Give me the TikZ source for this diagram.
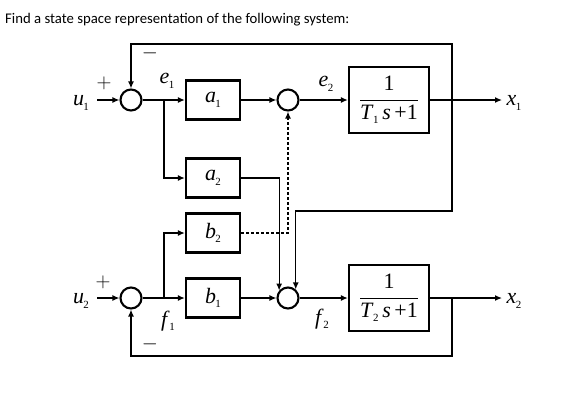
\documentclass[tikz,border=0pt]{standalone}
\usepackage{fontspec}
\setmainfont{Liberation Serif}
\newfontfamily\titlefont{Carlito}
\usetikzlibrary{arrows.meta}
\newcommand\sbs[1]{\raisebox{-0.45ex}{\fontsize{11}{11}\selectfont #1}}
\newcommand\vr[2]{\textit{#1}\kern-0.5pt\sbs{#2}}
\begin{document}
\begin{tikzpicture}[x=1bp,y=-1bp,
  blk/.style={draw,line width=2.3bp,minimum width=54bp,minimum height=39bp,inner sep=0pt,font=\fontsize{22}{22}\selectfont},
  tf/.style={draw,line width=2.3bp,minimum width=80bp,minimum height=66bp,inner sep=0pt,font=\fontsize{22}{22}\selectfont},
  sum/.style={circle,draw,line width=2.1bp,minimum size=21bp,inner sep=0pt},
  conn/.style={line width=1.3bp,-{Latex[length=7bp,width=6bp]}},
  dconn/.style={conn,dash pattern=on 3bp off 2bp},
  lab/.style={font=\fontsize{22}{22}\selectfont,inner sep=0pt},
  sgn/.style={font=\fontsize{21}{21}\selectfont,inner sep=0pt}
]
\useasboundingbox (0,0) rectangle (582,401);
\node[anchor=base west,font=\titlefont\fontsize{14.8}{14.8}\selectfont,inner sep=0pt] (title) at (5,23) {Find a state space representation of the following system:};

% nodes
\node[sum] (s1) at (131,100) {};
\node[blk] (a1) at (213,100) {\vr{a}{1}};
\node[sum] (s2) at (288,100) {};
\node[tf] (g1) at (389,100) {\(\displaystyle\frac{\mbox{1}}{\mbox{\vr{T}{1}\,\textit{s}\,+1}}\)};
\node[blk] (a2) at (213,178) {\vr{a}{2}};
\node[blk] (b2) at (213,233) {\vr{b}{2}};
\node[blk] (b1) at (213,298) {\vr{b}{1}};
\node[sum] (s4) at (131,298) {};
\node[sum] (s3) at (288,298) {};
\node[tf] (g2) at (389,298) {\(\displaystyle\frac{\mbox{1}}{\mbox{\vr{T}{2}\,\textit{s}\,+1}}\)};

\coordinate (u1) at (97,100);
\coordinate (u2) at (97,298);
\coordinate (br1) at (164,100);
\coordinate (br2) at (164,298);
\coordinate (x1) at (502,100);
\coordinate (x2) at (502,298);
\coordinate (tp1) at (452,100);
\coordinate (tp2) at (452,298);
\coordinate (tpA) at (452,44);
\coordinate (tpB) at (452,211);
\coordinate (tpC) at (452,356);

% connectors
\draw[conn] (u1) -- (s1.west);
\draw[conn] (s1.east) -- (a1.west);
\draw[conn] (br1) |- (a2.west);
\draw[conn] (a1.east) -- (s2.west);
\draw[conn] (s2.east) -- (g1.west);
\draw[conn] (g1.east) -- (x1);
\draw[conn] (tp1) -- (tpA) -| (s1.north);
\draw[conn] (tp1) -- (tpB) -| (s3.48);
\draw[conn] (a2.east) -| (s3.140);
\draw[dconn] (b2.east) -| (s2.south);
\draw[conn] (u2) -- (s4.west);
\draw[conn] (s4.east) -- (b1.west);
\draw[conn] (br2) |- (b2.west);
\draw[conn] (b1.east) -- (s3.west);
\draw[conn] (s3.east) -- (g2.west);
\draw[conn] (g2.east) -- (x2);
\draw[conn] (tp2) -- (tpC) -| (s4.south);

% labels
\node[lab] (lu1) at (81,103) {\vr{u}{1}};
\node[sgn] (p1) at (104,83) {\(+\)};
\node[sgn] (m1) at (150,53) {\(-\)};
\node[lab] (le1) at (167,81) {\vr{e}{1}};
\node[lab] (le2) at (326,84) {\vr{e}{2}};
\node[lab] (lx1) at (514,103) {\vr{x}{1}};
\node[lab] (lu2) at (81,301) {\vr{u}{2}};
\node[sgn] (p2) at (103,282) {\(+\)};
\node[lab] (lf1) at (168,321) {\vr{f}{1}};
\node[sgn] (m2) at (150,344) {\(-\)};
\node[lab] (lf2) at (322,319) {\vr{f}{2}};
\node[lab] (lx2) at (514,301) {\vr{x}{2}};
\end{tikzpicture}
\end{document}
